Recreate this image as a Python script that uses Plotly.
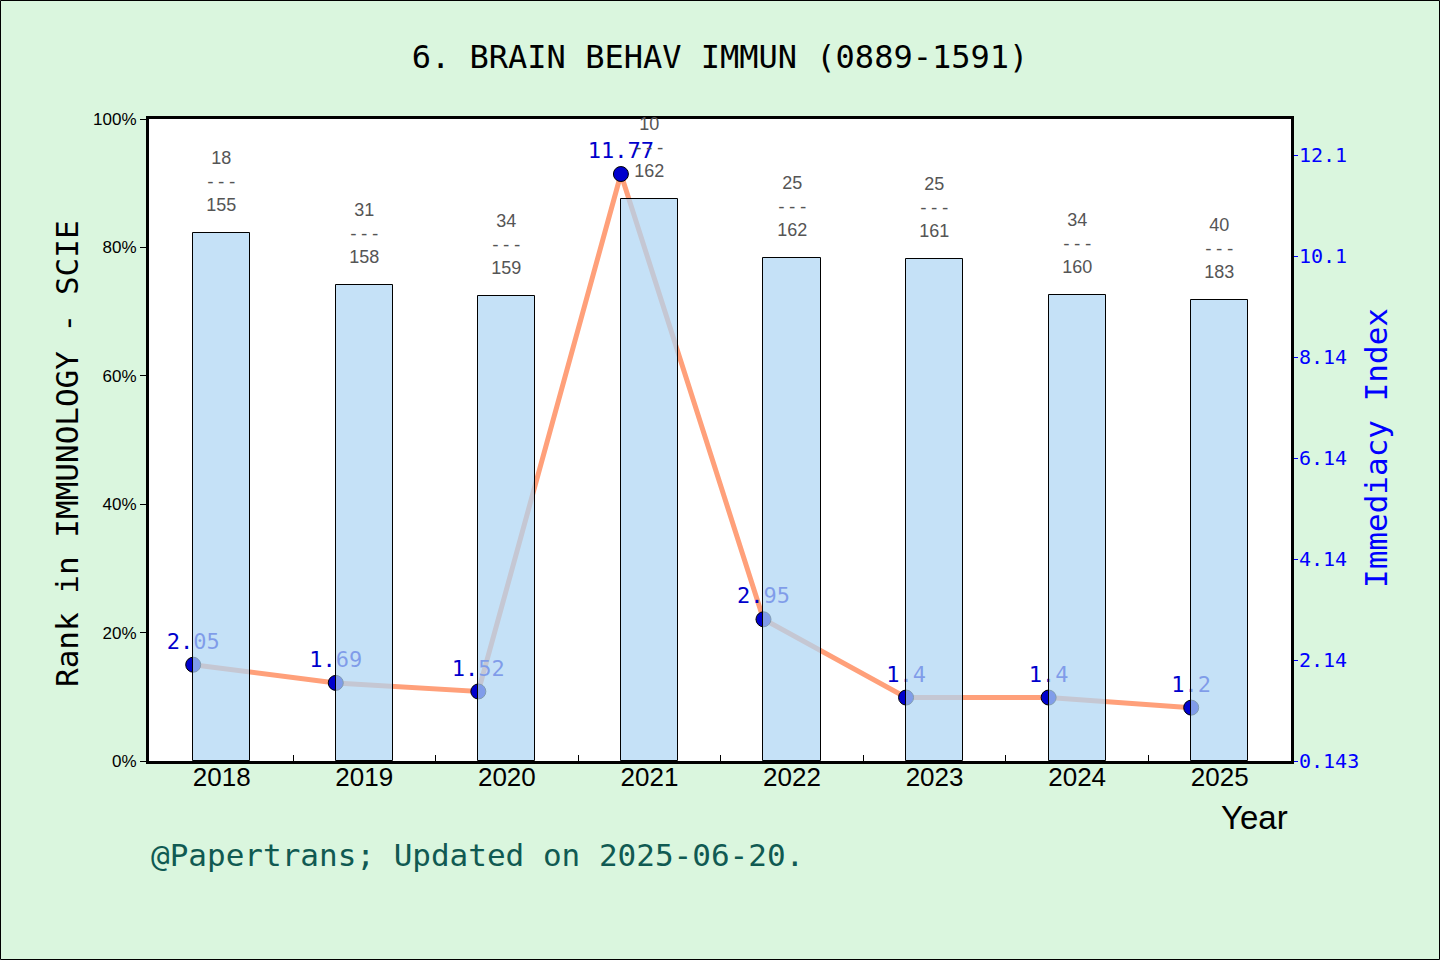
import plotly.graph_objects as go

years = ["2018", "2019", "2020", "2021", "2022", "2023", "2024", "2025"]
rank_pct = [82.2, 74.1, 72.4, 87.5, 78.3, 78.2, 72.6, 71.8]
rank_num = [18, 31, 34, 10, 25, 25, 34, 40]
rank_total = [155, 158, 159, 162, 162, 161, 160, 183]
immediacy = [2.05, 1.69, 1.52, 11.77, 2.95, 1.4, 1.4, 1.2]
imm_ticks = [0.143, 2.143, 4.143, 6.143, 8.143, 10.143, 12.143]
imm_tick_text = ["0.143", "2.14", "4.14", "6.14", "8.14", "10.1", "12.1"]
pct_ticks = [0, 20, 40, 60, 80, 100]
pct_tick_text = ["0%", "20%", "40%", "60%", "80%", "100%"]

xpos = list(range(len(years)))
MONO = "DejaVu Sans Mono"

# plot-area pixel geometry (used to place paper-referenced texts)
L, R, T, B = 149, 1291, 119, 761
PW, PH = R - L, B - T


def px(xp):
    return (xp - L) / PW


def py(yp):
    return (B - yp) / PH


fig = go.Figure()

# Immediacy line (drawn under the bars)
fig.add_trace(go.Scatter(
    x=xpos, y=immediacy, yaxis="y", mode="lines+markers+text",
    line=dict(color="#FFA07A", width=5),
    marker=dict(color="#0000CD", size=15, line=dict(color="black", width=1)),
    text=[str(v) for v in immediacy], textposition="top center",
    textfont=dict(family=MONO, size=22, color="#0000CC"),
    showlegend=False, cliponaxis=False,
))

# Rank bars (on top, semi-transparent)
fig.add_trace(go.Bar(
    x=xpos, y=rank_pct, yaxis="y2", width=0.4, offset=0,
    marker=dict(color="rgba(175,214,244,0.73)", line=dict(color="black", width=1)),
    showlegend=False,
))

for i, (p, n, t) in enumerate(zip(rank_pct, rank_num, rank_total)):
    fig.add_annotation(
        x=i + 0.2, y=p, xref="x", yref="y2", yanchor="bottom", yshift=16,
        text=f"{n}<br><span style=\"font-family:'DejaVu Sans Mono'\">---</span><br>{t}",
        showarrow=False,
        font=dict(family="Liberation Sans", size=18, color="#555555"),
    )

fig.update_layout(
    width=1440, height=960,
    paper_bgcolor="rgb(218,246,222)", plot_bgcolor="white",
    margin=dict(l=L, r=1440 - R, t=T, b=960 - B),
    title=dict(text="6. BRAIN BEHAV IMMUN (0889-1591)", x=0.5, xanchor="center",
               y=1 - 57 / 960, yanchor="middle",
               font=dict(family=MONO, size=32, color="black")),
    xaxis=dict(
        range=[-0.31, 7.70], tickvals=[i + 0.2 for i in xpos], ticktext=years,
        ticks="", showgrid=False, zeroline=False, ticklabelstandoff=-9,
        showline=True, linecolor="black", linewidth=3, mirror=True,
        tickfont=dict(family="Liberation Sans", size=26, color="black"),
        minor=dict(tickmode="array", tickvals=[i + 0.7 for i in xpos[:-1]],
                   ticks="inside", ticklen=6, tickcolor="black", tickwidth=1),
    ),
    yaxis=dict(
        side="right", range=[0.143, 12.86], tickvals=imm_ticks, ticktext=imm_tick_text,
        ticks="outside", ticklen=4, tickcolor="blue", showgrid=False, zeroline=False,
        showline=True, linecolor="black", linewidth=3, ticklabelstandoff=-3,
        tickfont=dict(family=MONO, size=20, color="blue"),
    ),
    yaxis2=dict(
        side="left", overlaying="y", range=[0, 100], tickvals=pct_ticks, ticktext=pct_tick_text,
        ticks="outside", ticklen=6, tickcolor="black", showgrid=False, zeroline=False,
        showline=True, linecolor="black", linewidth=3,
        tickfont=dict(family="Liberation Sans", size=17, color="black"),
    ),
    bargap=0,
)

# axis titles
fig.add_annotation(
    x=px(67), y=py(454), xref="paper", yref="paper", textangle=-90,
    xanchor="center", yanchor="middle", text="Rank in IMMUNOLOGY - SCIE", showarrow=False,
    font=dict(family=MONO, size=31, color="black"),
)
fig.add_annotation(
    x=px(1376), y=py(448), xref="paper", yref="paper", textangle=-90,
    xanchor="center", yanchor="middle", text="Immediacy Index", showarrow=False,
    font=dict(family=MONO, size=31, color="blue"),
)
fig.add_annotation(
    x=px(1290), y=py(817), xref="paper", yref="paper",
    xanchor="right", yanchor="middle", text="Year", showarrow=False,
    font=dict(family="Liberation Sans", size=33, color="black"),
)
fig.add_annotation(
    x=px(149), y=py(855), xref="paper", yref="paper",
    xanchor="left", yanchor="middle", text="@Papertrans; Updated on 2025-06-20.",
    showarrow=False, font=dict(family=MONO, size=31, color="rgb(16,90,82)"),
)
# thin frame around the whole figure
fig.add_shape(type="rect", xref="paper", yref="paper",
              x0=px(0.5), x1=px(1439.5), y0=py(959.5), y1=py(0.5),
              line=dict(color="black", width=1), layer="below")

fig.write_html("out.html")
